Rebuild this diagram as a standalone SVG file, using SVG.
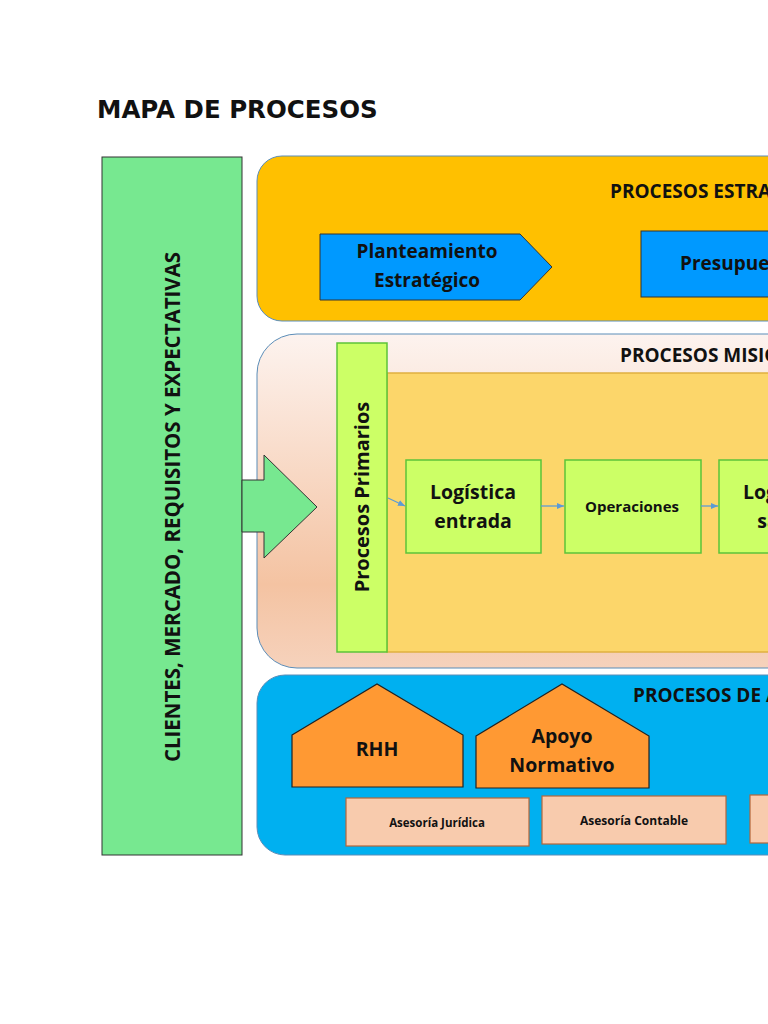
<svg xmlns="http://www.w3.org/2000/svg" width="768" height="1024" viewBox="0 0 768 1024">
<style>
.t{font-family:"Open Sans","Liberation Sans",sans-serif;font-weight:bold;fill:#111;text-anchor:middle}
.sec{font-family:"Open Sans","Liberation Sans",sans-serif;font-weight:bold;font-size:19px;fill:#111}
.g{fill:#CCFF66;stroke:#5CC33A;stroke-width:1.5}
.a{fill:#F8CBAD;stroke:#B4663A;stroke-width:1.2}
.h{fill:#FF9933;stroke:#222;stroke-width:1.2}
</style>
<defs>
<linearGradient id="mg" x1="0" y1="0" x2="0" y2="1"><stop offset="0" stop-color="#FDF3EF"/><stop offset="0.75" stop-color="#F4C3A2"/><stop offset="1" stop-color="#F6D2BC"/></linearGradient>
<marker id="ar" markerWidth="8" markerHeight="8" refX="7" refY="4" orient="auto" markerUnits="userSpaceOnUse"><path d="M0,1 L7,4 L0,7 z" fill="#5B9BD5"/></marker>
</defs>
<rect width="768" height="1024" fill="#fff"/>
<text x="97" y="118" font-family="DejaVu Sans,sans-serif" font-weight="bold" font-size="24.5" fill="#111">MAPA DE PROCESOS</text>
<g id="clientes">
<rect x="102" y="157" width="140" height="698" fill="#77E890" stroke="#333" stroke-width="1"/>
<text class="t" font-size="20.5" transform="translate(180,507) rotate(-90)">CLIENTES, MERCADO, REQUISITOS Y EXPECTATIVAS</text>
</g>
<g id="estrategicos">
<rect x="257" y="156" width="560" height="165" rx="25" fill="#FFC000" stroke="#5B8DB8" stroke-width="1"/>
<text class="sec" x="610" y="198">PROCESOS ESTRATÉGICOS</text>
</g>
<g id="planteamiento">
<path d="M320,234 H520 L552,267 L520,300 H320 Z" fill="#0099FF" stroke="#333" stroke-width="1"/>
<text class="t" font-size="19" x="427" y="258">Planteamiento</text>
<text class="t" font-size="19" x="427" y="287">Estratégico</text>
</g>
<g id="presupuesto">
<rect x="641" y="231" width="200" height="66" fill="#0099FF" stroke="#333" stroke-width="1"/>
<text class="sec" x="680" y="270">Presupuesto</text>
</g>
<g id="misionales">
<rect x="257" y="334" width="560" height="334" rx="40" fill="url(#mg)" stroke="#5B8DB8" stroke-width="1"/>
<text class="sec" x="620" y="362">PROCESOS MISIONALES</text>
<rect x="387" y="373" width="420" height="279" fill="#FCD66A" stroke="#E0B040" stroke-width="1.5"/>
</g>
<g id="flecha"><path d="M242,480 H264 V455 L317,507 L264,558 V532 H242 Z" fill="#77E890" stroke="#333" stroke-width="1"/></g>
<g id="primarios">
<rect class="g" x="337" y="343" width="50" height="309"/>
<text class="t" font-size="20" transform="translate(369,497) rotate(-90)">Procesos Primarios</text>
</g>
<g id="log-entrada">
<rect class="g" x="406" y="460" width="135" height="93"/>
<text class="t" font-size="19.5" x="473" y="499">Logística</text>
<text class="t" font-size="19.5" x="473" y="528">entrada</text>
</g>
<g id="operaciones">
<rect class="g" x="565" y="460" width="136" height="93"/>
<text class="t" font-size="15" x="632" y="512">Operaciones</text>
</g>
<g id="log-salida">
<rect class="g" x="719" y="460" width="135" height="93"/>
<text class="t" font-size="19.5" x="786" y="499">Logística</text>
<text class="t" font-size="19.5" x="786" y="528">salida</text>
</g>
<g id="conectores" stroke="#5B9BD5" stroke-width="1.3" fill="none">
<line x1="388" y1="498" x2="405" y2="506" marker-end="url(#ar)"/>
<line x1="541" y1="506" x2="564" y2="506" marker-end="url(#ar)"/>
<line x1="701" y1="506" x2="718" y2="506" marker-end="url(#ar)"/>
</g>
<g id="apoyo">
<rect x="257" y="675" width="560" height="180" rx="28" fill="#00B0F0" stroke="#5B8DB8" stroke-width="1"/>
<text class="sec" x="633" y="702">PROCESOS DE APOYO</text>
</g>
<g id="rhh">
<path class="h" d="M292,735 L377,684 L463,735 V787 H292 Z"/>
<text class="t" font-size="19.5" x="377" y="756">RHH</text>
</g>
<g id="normativo">
<path class="h" d="M476,736 L562,684 L649,736 V788 H476 Z"/>
<text class="t" font-size="19.5" x="562" y="743">Apoyo</text>
<text class="t" font-size="19.5" x="562" y="772">Normativo</text>
</g>
<g id="juridica">
<rect class="a" x="346" y="798" width="183" height="48"/>
<text class="t" font-size="11.5" x="437" y="827">Asesoría Jurídica</text>
</g>
<g id="contable">
<rect class="a" x="542" y="796" width="184" height="48"/>
<text class="t" font-size="12" x="634" y="825">Asesoría Contable</text>
</g>
<g id="tercero">
<rect class="a" x="750" y="795" width="184" height="48"/>
</g>
</svg>
